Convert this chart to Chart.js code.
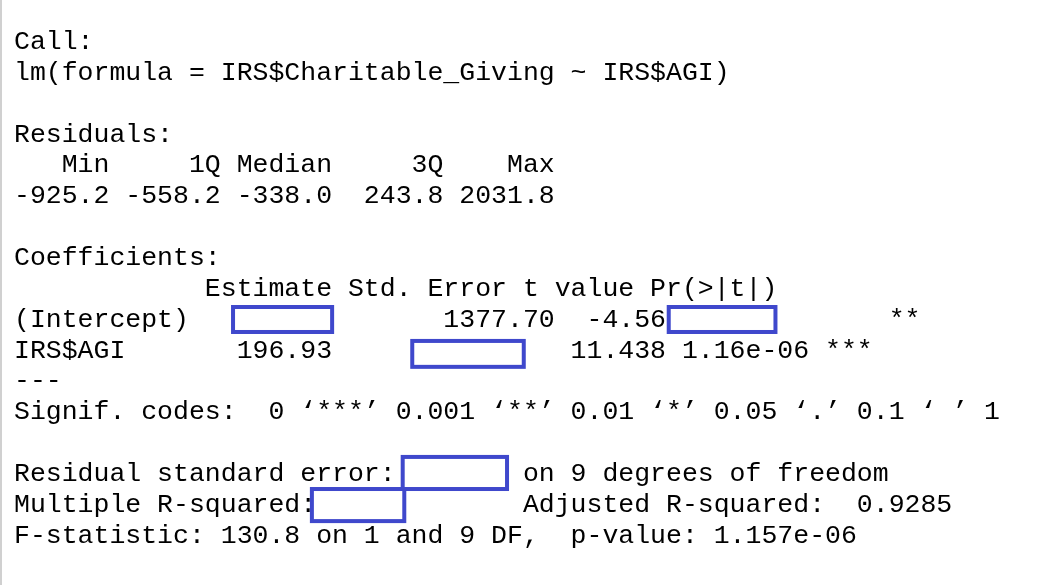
<!DOCTYPE html>
<html><head><meta charset="utf-8">
<script src="https://cdn.jsdelivr.net/npm/chart.js@4"></script>
<style>html,body{margin:0;padding:0;background:#fff}#wrap{width:1063px;height:585px;position:relative;box-sizing:border-box;border-left:2px solid #d0d0d0}</style>
</head><body><div id="wrap"><canvas id="c"></canvas></div>
<script>
const outputLines = [
  "Call:",
  "lm(formula = IRS$Charitable_Giving ~ IRS$AGI)",
  "",
  "Residuals:",
  "   Min     1Q Median     3Q    Max ",
  "-925.2 -558.2 -338.0  243.8 2031.8 ",
  "",
  "Coefficients:",
  "            Estimate Std. Error t value Pr(>|t|)    ",
  "(Intercept)                1377.70  -4.561             **",
  "IRS$AGI       196.93               11.438 1.16e-06 ***",
  "---",
  "Signif. codes:  0 ‘***’ 0.001 ‘**’ 0.01 ‘*’ 0.05 ‘.’ 0.1 ‘ ’ 1",
  "",
  "Residual standard error:        on 9 degrees of freedom",
  "Multiple R-squared:             Adjusted R-squared:  0.9285 ",
  "F-statistic: 130.8 on 1 and 9 DF,  p-value: 1.157e-06"
];
// redaction boxes: [colStart, colEnd, lineTop, lineBottom]
const boxCols0 = [13.75, 41.1, 25.0, 24.4, 18.7];
const boxCols1 = [19.97, 47.8, 32.0, 30.95, 24.5];
const boxLine0 = [8.59, 8.59, 9.69, 13.45, 14.49];
const boxLine1 = [9.40, 9.40, 10.53, 14.49, 15.53];

const textPlugin = {
  id:'rtext',
  afterDraw(chart){
    const {ctx, scales:{x,y}} = chart;
    ctx.save();
    ctx.font = '26.5px "Liberation Mono", "DejaVu Sans Mono", monospace';
    ctx.fillStyle = '#000';
    ctx.textBaseline = 'middle';
    outputLines.forEach((t,i)=>{ ctx.fillText(t, x.getPixelForValue(0), y.getPixelForValue(i)); });
    ctx.strokeStyle = '#3f48cc';
    ctx.lineWidth = 4;
    boxCols0.forEach((c0,i)=>{
      const l = x.getPixelForValue(c0), r = x.getPixelForValue(boxCols1[i]);
      const t = y.getPixelForValue(boxLine0[i]), b = y.getPixelForValue(boxLine1[i]);
      ctx.clearRect(l,t,r-l,b-t);
      ctx.fillStyle='#fff'; ctx.fillRect(l,t,r-l,b-t);
      ctx.strokeRect(l,t,r-l,b-t);
    });
    ctx.restore();
  }
};
new Chart(document.getElementById('c'), {
  type:'scatter',
  data:{datasets:[{data:[]}]},
  options:{
    responsive:true, maintainAspectRatio:false, animation:false,
    layout:{padding:0},
    plugins:{legend:{display:false},tooltip:{enabled:false}},
    scales:{
      x:{type:'linear',display:false,min:-12/15.93,max:(1061-12)/15.93},
      y:{type:'linear',display:false,reverse:true,min:-42/30.85,max:(585-42)/30.85}
    }
  },
  plugins:[textPlugin]
});
</script></body></html>
